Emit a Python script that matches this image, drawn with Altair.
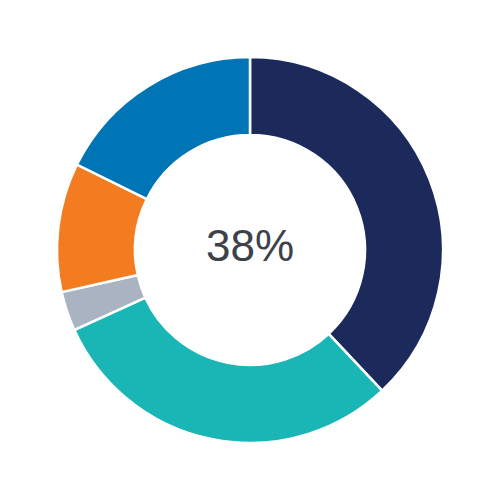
import pandas as pd
import altair as alt

segments = ["Navy", "Teal", "Gray", "Orange", "Blue"]
shares = [38.0, 30.2, 3.3, 10.8, 17.7]
colors = ["#1c2a5b", "#1ab6b6", "#a9b3c1", "#f47c20", "#0075b5"]
center_label = "38%"

df = pd.DataFrame({"segment": segments, "share": shares, "rank": range(len(segments))})

donut = (
    alt.Chart(df)
    .mark_arc(innerRadius=115, outerRadius=193, stroke="white", strokeWidth=2.5)
    .encode(
        theta=alt.Theta("share:Q", stack=True),
        order=alt.Order("rank:Q"),
        color=alt.Color("segment:N", sort=segments,
                        scale=alt.Scale(domain=segments, range=colors), legend=None),
    )
)

label = (
    alt.Chart(pd.DataFrame({"text": [center_label]}))
    .mark_text(font="Liberation Sans", fontSize=44, color="#3d4148", baseline="middle", dy=-2)
    .encode(text="text:N")
)

chart = (
    alt.layer(donut, label)
    .properties(width=484, height=484, padding=0,
                autosize=alt.AutoSizeParams(type="fit", contains="padding"))
    .configure_view(stroke=None)
)

chart.save("out.html", embed_options={"renderer": "svg", "actions": False})
